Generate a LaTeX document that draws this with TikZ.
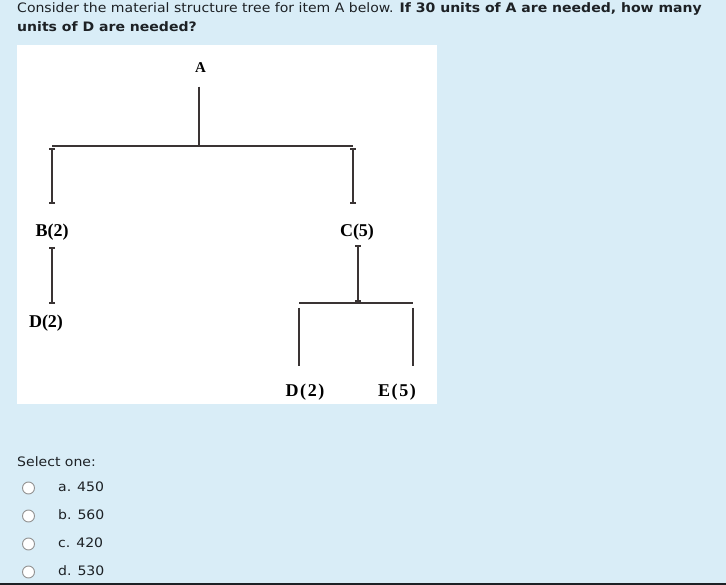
\documentclass[tikz,border=0pt]{standalone}
\usepackage{fontspec}
\setmainfont{DejaVu Sans}[FakeStretch=1.08]
\newfontfamily\treefont{Liberation Serif}
\usetikzlibrary{arrows.meta}
\definecolor{panelblue}{HTML}{D9EDF7}
\definecolor{qtext}{HTML}{1D2125}
\definecolor{treeline}{HTML}{3A3434}

\begin{document}
\begin{tikzpicture}[x=1pt,y=-1pt,
    stem/.style={line width=2pt,color=treeline},
    capped/.style={stem,{Bar[width=6pt,line width=1.6pt]}-{Bar[width=6pt,line width=1.6pt]}},
    part/.style={inner sep=0pt,text=black,font=\treefont\bfseries\fontsize{18}{18}\selectfont},
    lowpart/.style={font=\treefont\bfseries\fontsize{18}{18}\selectfont\addfontfeature{LetterSpace=9}},
    qtxt/.style={anchor=base west,inner sep=0pt,text=qtext,font=\fontsize{13}{13}\selectfont},
    radio/.style={circle,draw=gray!85,fill=white,line width=0.9pt,minimum size=12pt,inner sep=0pt}]
    \useasboundingbox (0,0) rectangle (726,585);
    \fill[panelblue] (0,0) rectangle (726,585);
    \fill[white] (17,45) rectangle (437,404);
    \draw[line width=2pt,color=qtext] (0,584) -- (726,584);

    % question
    \node (q1) at (17,13) [qtxt] {Consider the material structure tree for item A below. \textbf{If 30 units of A are needed, how many}};
    \node (q2) at (17,32) [qtxt] {\textbf{units of D are needed?}};

    % tree
    \node (A) at (200.5,67.5) [part,font=\treefont\bfseries\fontsize{15}{15}\selectfont] {A};
    \node (B) at (52,232) [part] {B(2)};
    \node (C) at (357,232) [part] {C(5)};
    \node (D1) at (46,323) [part] {D(2)};
    \node (D2) at (305,392) [part,lowpart] {D(2)};
    \node (E) at (397,392) [part,lowpart] {E(5)};

    \coordinate (hA) at (199,146);
    \coordinate (hB) at (52,146);
    \coordinate (hC) at (353,146);
    \coordinate (hC2) at (358,303);
    \coordinate (hD) at (299,303);
    \coordinate (hE) at (413,303);

    \draw[stem,shorten <=14pt] (A.south -| hA) to (hA);
    \draw[stem] (hB) to (hC);
    \draw[capped,shorten <=2pt,shorten >=20pt] (hB) to (hB |- B.north);
    \draw[capped,shorten <=2pt,shorten >=20pt] (hC) to (hC |- C.north);
    \draw[capped,shorten <=7pt,shorten >=11pt] (B.south) to (B.south |- D1.north);
    \draw[capped,shorten <=5pt,shorten >=1pt] (C.south -| hC2) to (hC2);
    \draw[stem] (hD) to (hE);
    \draw[stem,shorten <=5pt,shorten >=18pt] (hD) to (hD |- D2.north);
    \draw[stem,shorten <=5pt,shorten >=18pt] (hE) to (hE |- E.north);

    % answers
    \node (sel) at (17,466.5) [qtxt] {Select one:};
    \foreach \lab/\val [count=\i] in {a/450,b/560,c/420,d/530} {
      \node (r\i) at (28.5,{488+28*(\i-1)}) [radio] {};
      \node (o\i) at (58,{491+28*(\i-1)}) [qtxt] {\lab. \val};
    }
\end{tikzpicture}
\end{document}
